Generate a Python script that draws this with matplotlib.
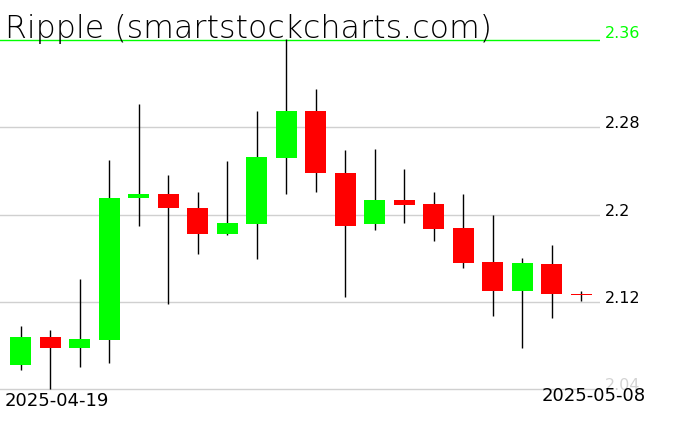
import numpy as np
import matplotlib
matplotlib.use('Agg')
import matplotlib.pyplot as plt

# ------------------------------------------------------------
# 数据：Ripple 日线 OHLC
# ------------------------------------------------------------
opens = [2.062, 2.088, 2.078, 2.085, 2.215, 2.219, 2.206, 2.182, 2.191, 2.252,
         2.295, 2.238, 2.191, 2.213, 2.210, 2.188, 2.157, 2.130, 2.155, 2.127]
highs = [2.098, 2.094, 2.141, 2.250, 2.301, 2.236, 2.221, 2.249, 2.295, 2.361,
         2.315, 2.259, 2.260, 2.242, 2.221, 2.219, 2.200, 2.160, 2.172, 2.130]
lows = [2.058, 2.040, 2.060, 2.064, 2.190, 2.118, 2.164, 2.181, 2.159, 2.219,
        2.221, 2.125, 2.186, 2.192, 2.176, 2.151, 2.107, 2.078, 2.105, 2.121]
closes = [2.088, 2.078, 2.086, 2.215, 2.219, 2.206, 2.182, 2.192, 2.253, 2.295,
          2.238, 2.190, 2.213, 2.209, 2.187, 2.156, 2.130, 2.156, 2.127, 2.126]

grid_levels = [2.04, 2.12, 2.2, 2.28]
grid_labels = ['2.04', '2.12', '2.2', '2.28']
high_level = 2.36
high_label = '2.36'
first_date = '2025-04-19'
last_date = '2025-05-08'
title = 'Ripple (smartstockcharts.com)'

W, H = 676, 431
fig = plt.figure(figsize=(W / 100, H / 100), dpi=100)
ax = fig.add_axes([0, 0, 600 / W, 1])
ax.set_axis_off()

# 像素 -> 数据范围
px_per_unit = 1091.7
ax.set_ylim(2.28 - (H - 128.3) / px_per_unit, 2.28 + 128.3 / px_per_unit)
step = 29.5
ax.set_xlim(-20.5 / step, (600 - 20.5) / step)

for lv in grid_levels:
    ax.axhline(lv, color='#d0d0d0', linewidth=1.0, zorder=0)
ax.axhline(high_level, color='#00ff00', linewidth=1.0, zorder=0)

x = np.arange(len(opens))
o = np.array(opens)
c = np.array(closes)
colors = ['#00ff00' if cc >= oo else '#ff0000' for oo, cc in zip(o, c)]

ax.vlines(x, lows, highs, color='black', linewidth=1.0, zorder=1)
ax.bar(x, np.maximum(np.abs(c - o), 0.0012), bottom=np.minimum(o, c),
       width=21 / step, color=colors, linewidth=0, zorder=2)

# 右侧价格标签
ytr = ax.get_yaxis_transform()
for lv, lab in zip(grid_levels, grid_labels):
    col = '#d3d3d3' if lv == grid_levels[0] else 'black'
    ax.text(605 / 600, lv, lab, transform=ytr, ha='left', va='baseline',
            fontsize=11.5, color=col, clip_on=False)
ax.text(605 / 600, high_level + 0.003, high_label, transform=ytr, ha='left',
        va='baseline', fontsize=11.5, color='#00ff00', clip_on=False)

# 日期与标题
fig.text(5 / W, 1 - 406 / H, first_date, ha='left', va='baseline', fontsize=13)
fig.text(646 / W, 1 - 401 / H, last_date, ha='right', va='baseline', fontsize=13)
fig.text(5 / W, 1 - 38 / H, title, ha='left', va='baseline', fontsize=22.8,
         fontweight='light', color='black')

fig.savefig('out.png', dpi=100, facecolor='white')
